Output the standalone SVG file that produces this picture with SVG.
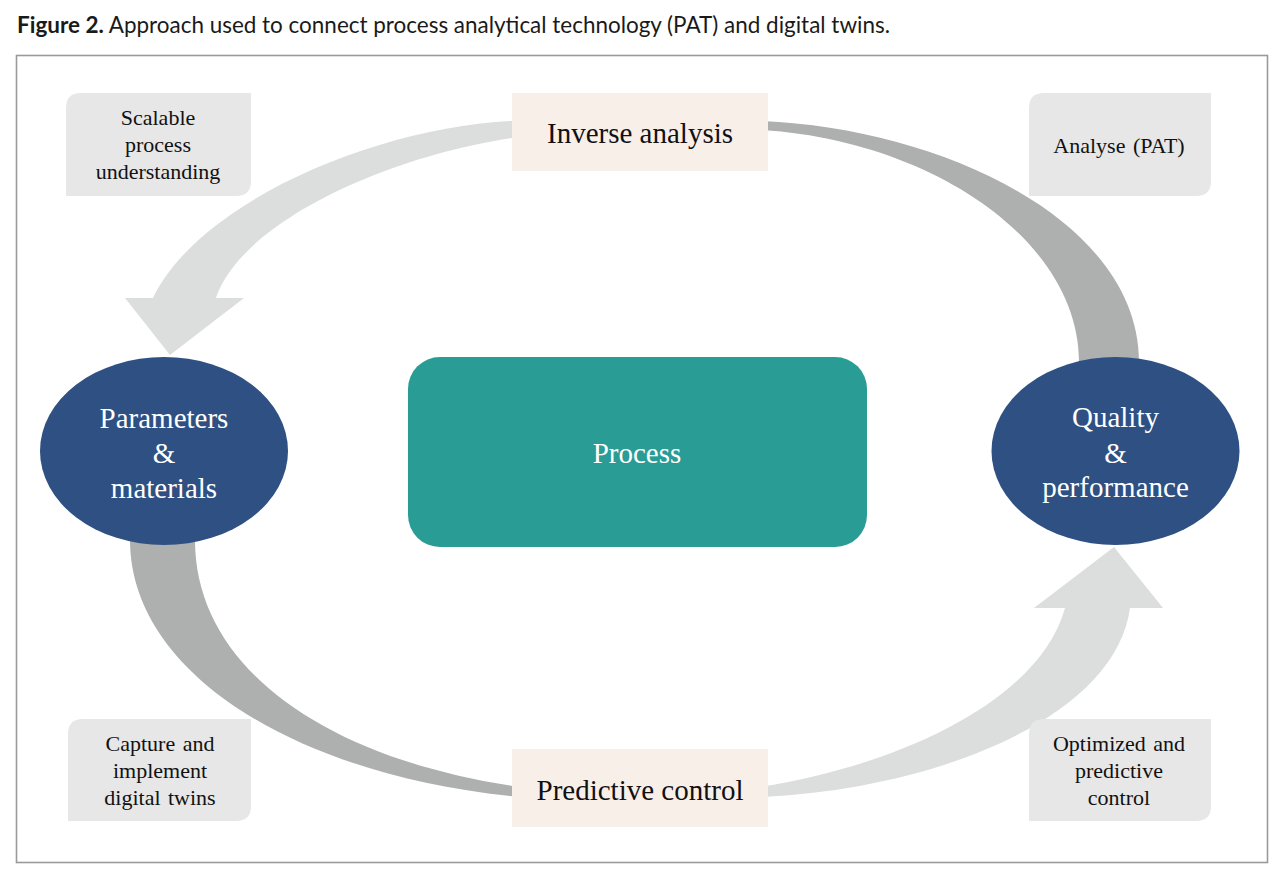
<svg xmlns="http://www.w3.org/2000/svg" width="1280" height="881" viewBox="0 0 1280 881">
  <defs>
    <style>
      .title { font-family: "Lato", "Noto Sans", sans-serif; font-size: 22.5px; fill: #1a1a1a; }
      .note { fill: #e7e7e7; }
      .notetxt { font-family: "Liberation Serif", "Times New Roman", serif; font-size: 22px; fill: #111; text-anchor: middle; word-spacing: 2px; }
      .stage { fill: #f9efe9; }
      .stagetxt { font-family: "Liberation Serif", "Times New Roman", serif; font-size: 29px; fill: #111; text-anchor: middle; }
      .ell { fill: #2e5082; }
      .wtxt { font-family: "Liberation Serif", "Times New Roman", serif; font-size: 29px; fill: #ffffff; text-anchor: middle; }
      .dark { fill: #aeafaf; }
      .light { fill: #dcdddd; }
    </style>
  </defs>
  <rect width="1280" height="881" fill="#ffffff"/>

  <text class="title" x="17" y="33" textLength="873" lengthAdjust="spacingAndGlyphs"><tspan font-weight="bold">Figure 2.</tspan> Approach used to connect process analytical technology (PAT) and digital twins.</text>

  <rect x="16.5" y="55.5" width="1251" height="807" fill="none" stroke="#9a9a9a" stroke-width="1.6"/>

  <g id="connectors">
    <path class="light" d="M 520 121 L 512 121 C 380 127 200 200 153 298 L 125 298 L 170 355 L 244 298 L 216 298 C 240 225 380 158 512 138 L 520 138 Z"/>
    <path class="dark" d="M 760 121 C 940 128 1139 220 1139 362 L 1079 362 C 1079 240 930 140 760 130 Z"/>
    <path class="dark" d="M 130 540 C 130 670 290 775 520 797 L 520 787 C 330 760 195 670 195 540 Z"/>
    <path class="light" d="M 760 787 C 900 765 1040 700 1065 608 L 1034 608 L 1114 547 L 1163 608 L 1130 608 C 1115 720 930 790 760 797 Z"/>
  </g>

  <g id="inverse-analysis">
    <rect class="stage" x="512" y="93" width="256" height="78"/>
    <text class="stagetxt" x="640" y="143">Inverse analysis</text>
  </g>

  <g id="predictive-control">
    <rect class="stage" x="512" y="749" width="256" height="78"/>
    <text class="stagetxt" x="640" y="800">Predictive control</text>
  </g>

  <g id="scalable">
    <path class="note" d="M 81 93 L 251 93 L 251 181 Q 251 196 236 196 L 66 196 L 66 108 Q 66 93 81 93 Z"/>
    <text class="notetxt" x="158" y="125">Scalable</text>
    <text class="notetxt" x="158" y="152">process</text>
    <text class="notetxt" x="158" y="179">understanding</text>
  </g>

  <g id="analyse">
    <path class="note" d="M 1044 93 L 1211 93 L 1211 181 Q 1211 196 1196 196 L 1029 196 L 1029 108 Q 1029 93 1044 93 Z"/>
    <text class="notetxt" x="1119" y="153">Analyse  (PAT)</text>
  </g>

  <g id="capture">
    <path class="note" d="M 83 719 L 251 719 L 251 806 Q 251 821 236 821 L 68 821 L 68 734 Q 68 719 83 719 Z"/>
    <text class="notetxt" x="160" y="751">Capture  and</text>
    <text class="notetxt" x="160" y="778">implement</text>
    <text class="notetxt" x="160" y="805">digital  twins</text>
  </g>

  <g id="optimized">
    <path class="note" d="M 1044 719 L 1211 719 L 1211 806 Q 1211 821 1196 821 L 1029 821 L 1029 734 Q 1029 719 1044 719 Z"/>
    <text class="notetxt" x="1119" y="751">Optimized and</text>
    <text class="notetxt" x="1119" y="778">predictive</text>
    <text class="notetxt" x="1119" y="805">control</text>
  </g>

  <g id="process">
    <rect x="408" y="357" width="459" height="190" rx="32" ry="32" fill="#289c95"/>
    <text class="wtxt" x="637" y="463">Process</text>
  </g>

  <g id="parameters">
    <ellipse class="ell" cx="164" cy="451" rx="124" ry="94"/>
    <text class="wtxt" x="164" y="428">Parameters</text>
    <text class="wtxt" x="164" y="463">&amp;</text>
    <text class="wtxt" x="164" y="498">materials</text>
  </g>

  <g id="quality">
    <ellipse class="ell" cx="1115.5" cy="451" rx="124" ry="94"/>
    <text class="wtxt" x="1115.5" y="427">Quality</text>
    <text class="wtxt" x="1115.5" y="463">&amp;</text>
    <text class="wtxt" x="1115.5" y="497">performance</text>
  </g>
</svg>
